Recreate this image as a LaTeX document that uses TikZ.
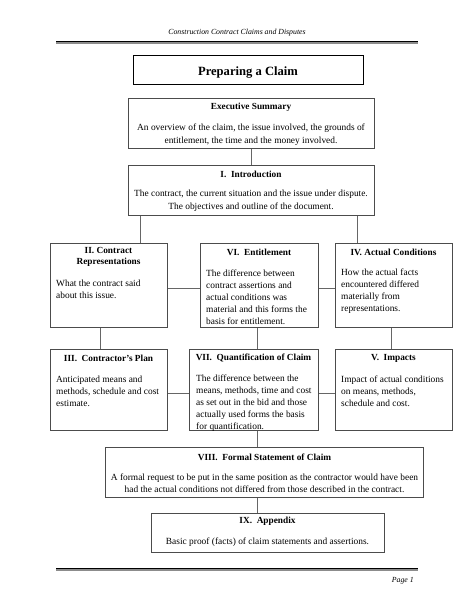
\documentclass[tikz,border=0pt]{standalone}
\usepackage{fontspec}
\setmainfont{Liberation Serif}
\begin{document}
\begin{tikzpicture}[x=1pt,y=-1pt,
  box/.style={draw=black!70, line width=0.8pt, inner sep=0pt, anchor=north west},
  conn/.style={draw=black!60, line width=0.8pt},
  ttl/.style={font=\bfseries\fontsize{9.3}{10.5}\selectfont, inner sep=0pt, align=center},
  bodyc/.style={font=\fontsize{9.4}{12.5}\selectfont, inner sep=0pt, align=center},
  bodyl/.style={font=\fontsize{9.4}{12}\selectfont, inner sep=0pt, align=left, anchor=west}]
\useasboundingbox (0,0) rectangle (474,613);
% header
\node[font=\itshape\fontsize{7.8}{8}\selectfont, inner sep=0pt] (hdr) at (237,33) {Construction Contract Claims and Disputes};
\draw[line width=1.6pt, black] (56,41.5) -- (418,41.5);
\draw[line width=1.2pt, black!45] (56,42.9) -- (418,42.9);
% title
\node[box, draw=black, line width=1.2pt, minimum width=230pt, minimum height=29pt] (title) at (133,55) {};
\node[font=\bfseries\fontsize{12.6}{15}\selectfont, inner sep=0pt] (titletext) at (248,73) {Preparing a Claim};
% executive summary
\node[box, minimum width=246pt, minimum height=50pt] (exec) at (128,98) {};
\node[ttl] (exect) at (251,107) {Executive Summary};
\node[bodyc] (execb) at (251,134.5) {An overview of the claim, the issue involved, the grounds of\\entitlement, the time and the money involved.};
% introduction
\node[box, minimum width=246pt, minimum height=50pt] (intro) at (128,165) {};
\node[ttl] (introt) at (251,174) {I.\enspace Introduction};
\node[bodyc] (introb) at (251,200.5) {The contract, the current situation and the issue under dispute.\\The objectives and outline of the document.};
% row 2
\node[box, minimum width=117pt, minimum height=84pt] (ii) at (50,243) {};
\node[ttl] (iit) at (108.5,257) {II. Contract\\Representations};
\node[bodyl] (iib) at (56,289) {What the contract said\\about this issue.};
\node[box, minimum width=118pt, minimum height=84pt] (vi) at (200,243) {};
\node[ttl] (vit) at (259,252) {VI.\enspace Entitlement};
\node[bodyl] (vib) at (206,297) {The difference between\\contract assertions and\\actual conditions was\\material and this forms the\\basis for entitlement.};
\node[box, minimum width=117pt, minimum height=84pt] (iv) at (335,243) {};
\node[ttl] (ivt) at (393.5,252) {IV. Actual Conditions};
\node[bodyl] (ivb) at (341,291) {How the actual facts\\encountered differed\\materially from\\representations.};
% row 3
\node[box, minimum width=117pt, minimum height=81pt] (iii) at (50,349) {};
\node[ttl] (iiit) at (108.5,358) {III.\enspace Contractor’s Plan};
\node[bodyl] (iiib) at (56,391) {Anticipated means and\\methods, schedule and cost\\estimate.};
\node[box, minimum width=129pt, minimum height=81pt] (vii) at (189,349) {};
\node[ttl] (viit) at (253.5,358) {VII.\enspace Quantification of Claim};
\node[bodyl] (viib) at (196,403) {The difference between the\\means, methods, time and cost\\as set out in the bid and those\\actually used forms the basis\\for quantification.};
\node[box, minimum width=117pt, minimum height=81pt] (v) at (335,349) {};
\node[ttl] (vt) at (393.5,358) {V.\enspace Impacts};
\node[bodyl] (vb) at (341,391) {Impact of actual conditions\\on means, methods,\\schedule and cost.};
% VIII
\node[box, minimum width=318pt, minimum height=50pt] (viii) at (105,447) {};
\node[ttl] (viiit) at (264.5,457) {VIII.\enspace Formal Statement of Claim};
\node[bodyc] (viiib) at (264.5,483.5) {A formal request to be put in the same position as the contractor would have been\\had the actual conditions not differed from those described in the contract.};
% IX
\node[box, minimum width=233pt, minimum height=39pt] (ix) at (151,513) {};
\node[ttl] (ixt) at (267.5,521) {IX.\enspace Appendix};
\node[bodyc] (ixb) at (267.5,542) {Basic proof (facts) of claim statements and assertions.};
% footer
\draw[line width=1.6pt, black] (56,568.5) -- (418,568.5);
\draw[line width=1.2pt, black!45] (56,569.9) -- (418,569.9);
\node[font=\itshape\fontsize{7.8}{8}\selectfont, inner sep=0pt, anchor=east] (pg) at (414,581) {Page 1};
% connectors
\draw[conn] (exec.south -| 251,0) -- (intro.north -| 251,0);
\draw[conn] (intro.south -| 140,0) -- (ii.north -| 140,0);
\draw[conn] (intro.south -| 357,0) -- (iv.north -| 357,0);
\draw[conn] (ii.east |- 0,288) -- (vi.west |- 0,288);
\draw[conn] (vi.east |- 0,288) -- (iv.west |- 0,288);
\draw[conn] (ii.south -| 100,0) -- (iii.north -| 100,0);
\draw[conn] (vi.south -| 257,0) -- (vii.north -| 257,0);
\draw[conn] (iv.south -| 391,0) -- (v.north -| 391,0);
\draw[conn] (iii.east |- 0,393) -- (vii.west |- 0,393);
\draw[conn] (vii.east |- 0,393) -- (v.west |- 0,393);
\draw[conn] (vii.south -| 257,0) -- (viii.north -| 257,0);
\draw[conn] (viii.south -| 257,0) -- (ix.north -| 257,0);
\end{tikzpicture}
\end{document}
